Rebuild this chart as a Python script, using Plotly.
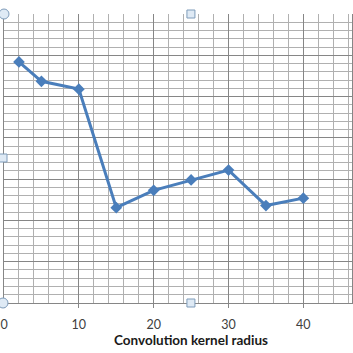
import plotly.graph_objects as go

radius = [2, 5, 10, 15, 20, 25, 30, 35, 40]
values = [5.84, 5.37, 5.18, 2.31, 2.73, 2.98, 3.22, 2.36, 2.54]
x_ticks = [0, 10, 20, 30, 40]
x_title = "Convolution kernel radius"

W, H = 353, 353
L, R, T, B = 3, 0, 14, 50
pw, ph = W - L - R, H - T - B

fig = go.Figure()
fig.add_trace(go.Scatter(
    x=radius, y=values, mode="lines+markers",
    line=dict(color="#4a7ebb", width=3),
    marker=dict(symbol="diamond", size=9, color="#4a7ebb"),
    showlegend=False, cliponaxis=False,
))

def px2paper(px, py):
    return (px - L) / pw, (H - B - py) / ph

shapes = []
for (px, py, kind) in [(3, 14, "circle"), (2, 303, "circle"),
                       (191, 14, "rect"), (191, 303, "rect"), (2, 158, "rect")]:
    ax, ay = px2paper(px, py)
    s = 5 if kind == "circle" else 4
    shapes.append(dict(type=kind, xref="paper", yref="paper",
                       xsizemode="pixel", ysizemode="pixel",
                       xanchor=ax, yanchor=ay, x0=-s, x1=s, y0=-s, y1=s,
                       fillcolor="#dfeaf5", line=dict(color="#7f9cba", width=1),
                       layer="above"))

fig.update_layout(
    width=W, height=H,
    margin=dict(l=L, r=R, t=T, b=B),
    paper_bgcolor="white", plot_bgcolor="white",
    font=dict(family="Lato, Liberation Sans, sans-serif", color="#404040", size=12),
    xaxis=dict(range=[0, 46.5], tickvals=x_ticks, ticktext=[str(v) for v in x_ticks],
               showgrid=True, gridcolor="#868686", gridwidth=1,
               minor=dict(dtick=2, showgrid=True, gridcolor="#b0b0b0", gridwidth=1),
               ticks="outside", ticklen=4, tickcolor="#868686",
               ticklabelstandoff=6, ticklabeloverflow="allow",
               tickfont=dict(size=12.5, color="#404040"),
               zeroline=False, showline=True, linecolor="#868686", linewidth=1),
    yaxis=dict(range=[0, 7], dtick=1, showticklabels=False,
               showgrid=True, gridcolor="#868686", gridwidth=1,
               minor=dict(dtick=0.2, showgrid=True, gridcolor="#b0b0b0", gridwidth=1),
               zeroline=False, showline=True, linecolor="#868686", linewidth=1,
               mirror=True),
    shapes=shapes,
    annotations=[dict(text=x_title, xref="paper", yref="paper",
                      x=(191 - L) / pw, y=(H - B - 340) / ph,
                      xanchor="center", yanchor="middle", showarrow=False,
                      font=dict(family="Lato, Liberation Sans, sans-serif",
                                size=13.5, color="#1a1a1a", weight="bold"))],
)

fig.write_html("out.html")
